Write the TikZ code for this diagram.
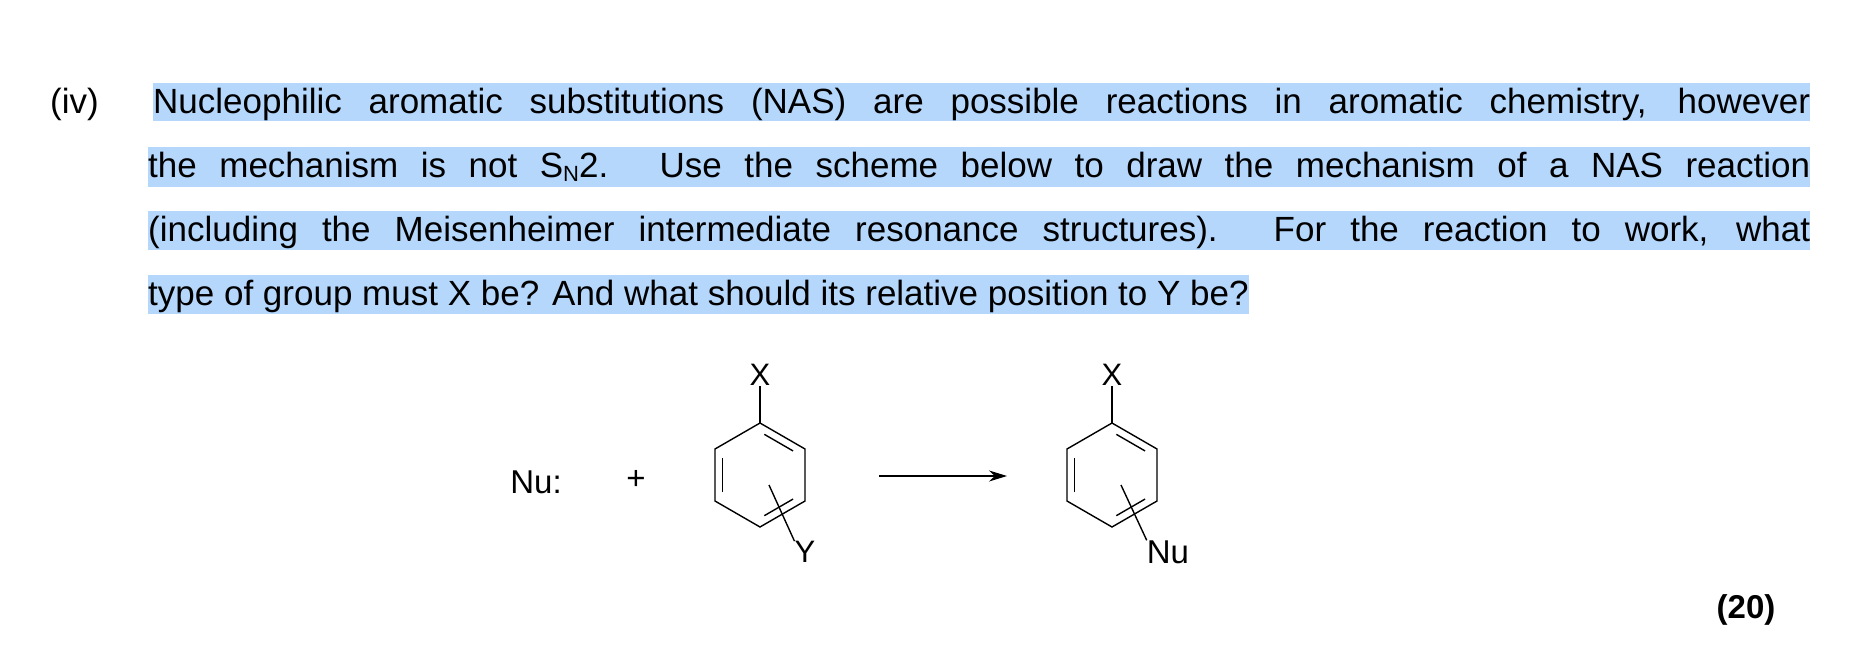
\documentclass[tikz,border=0pt]{standalone}
\usepackage{fontspec}
\setmainfont{Liberation Sans}
\usetikzlibrary{calc,arrows.meta}
\definecolor{hl}{RGB}{181,215,252}
\begin{document}
\begin{tikzpicture}[x=1pt,y=-1pt,
  txt/.style={anchor=base west,inner sep=0pt,font=\fontsize{35}{40}\selectfont},
  jline/.style={txt,text width=#1,align=justify},
  bond/.style={line width=1.4pt},
  lab/.style={inner sep=0pt,font=\fontsize{31}{36}\selectfont}]
\useasboundingbox (0,0) rectangle (1872,664);
% highlights
\fill[hl] (153,83) rectangle (1810,121);
\fill[hl] (148,147) rectangle (1810,187);
\fill[hl] (148,211) rectangle (1810,250);
\node[txt] (iv) at (50,113) {(iv)};
\node[jline=1657pt] (l1) at (153,113) {\parfillskip=0pt Nucleophilic aromatic substitutions (NAS) are possible reactions in aromatic chemistry, however\par};
\node[jline=1662pt] (l2) at (148,177) {\parfillskip=0pt the mechanism is not S{\fontsize{22}{24}\selectfont\raisebox{-4pt}{N}}2. Use the scheme below to draw the mechanism of a NAS reaction\par};
\node[jline=1662pt] (l3) at (148,241) {\parfillskip=0pt (including the Meisenheimer intermediate resonance structures). For the reaction to work, what\par};
\begin{scope}[on background layer/.style={}]
\node[txt] (l4) at (148,305) {type of group must X be? And what should its relative position to Y be?};
\end{scope}
\begin{pgfinterruptboundingbox}
\fill[hl] (l4.south west|-0,275) rectangle (l4.east|-0,314);
\end{pgfinterruptboundingbox}
\node[txt] (l4b) at (148,305) {type of group must X be? And what should its relative position to Y be?};
\node[inner sep=0pt,font=\fontsize{33}{38}\selectfont\bfseries] (pts) at (1746,610) {(20)};
\node[lab,font=\fontsize{33}{38}\selectfont] (nu) at (536,482) {Nu:};
\node[lab,font=\fontsize{33}{38}\selectfont] (plus) at (636,480) {+};
% rings
\foreach \cx/\sub/\nm in {760/Y/r1,1112/Nu/r2}{
  \coordinate (\nm c) at (\cx,475);
  \coordinate (\nm a) at (\cx,423);
  \coordinate (\nm b) at (\cx+45,449);
  \coordinate (\nm d) at (\cx+45,501);
  \coordinate (\nm e) at (\cx,527);
  \coordinate (\nm f) at (\cx-45,501);
  \coordinate (\nm g) at (\cx-45,449);
  \draw[bond,line join=miter] (\nm a)--(\nm b)--(\nm d)--(\nm e)--(\nm f)--(\nm g)--cycle;
  \draw[bond,shorten <=5pt,shorten >=5pt] ($(\nm c)!.83!(\nm a)$)--($(\nm c)!.83!(\nm b)$);
  \draw[bond,shorten <=5pt,shorten >=5pt] ($(\nm c)!.83!(\nm f)$)--($(\nm c)!.83!(\nm g)$);
  \draw[bond,shorten <=5pt,shorten >=5pt] ($(\nm c)!.83!(\nm d)$)--($(\nm c)!.83!(\nm e)$);
  \node[lab] (\nm x) at (\cx,375) {X};
  \draw[bond] (\nm a)--(\nm x.south);
  \coordinate (\nm s) at (\cx+9,485);
}
\node[lab] (y) at (805,552) {Y};
\node[lab,font=\fontsize{33}{38}\selectfont] (nu2) at (1168,552) {Nu};
\draw[bond] (r1s)--(y.north west);
\draw[bond] (r2s)--(nu2.north west);
\coordinate (a1) at (879,476);
\coordinate (a2) at (1007,476);
\draw[line width=1.4pt,-{Stealth[length=18pt,width=11pt]}] (a1)--(a2);
\end{tikzpicture}
\end{document}
